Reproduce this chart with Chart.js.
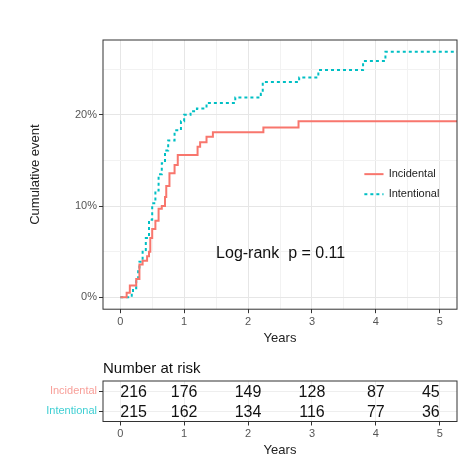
<!DOCTYPE html>
<html>
<head>
<meta charset="utf-8">
<script src="https://cdn.jsdelivr.net/npm/chart.js@4"></script>
<style>
  body { margin: 0; background: #fff; }
  #wrap1 { position: absolute; left: 0; top: 0; width: 474px; height: 350px; }
  #wrap2 { position: absolute; left: 0; top: 352px; width: 474px; height: 110px; }
</style>
</head>
<body>
<div id="wrap1"><canvas id="km"></canvas></div>
<div id="wrap2"><canvas id="risk"></canvas></div>
<script>
Chart.defaults.font.family = "'Liberation Sans', Arial, sans-serif";
Chart.defaults.animation = false;

var RED = '#F8766D';
var TEAL = '#00BFC4';

// step curves: [years, cumulative %]
var incidentalT = [0, 0.1, 0.15, 0.25, 0.3, 0.35, 0.42, 0.45, 0.47, 0.5, 0.55, 0.6, 0.65, 0.7, 0.72, 0.77, 0.85, 0.9, 1.21, 1.25, 1.35, 1.45, 2.24, 2.79, 5.27];
var incidentalY = [0, 0.5, 1.3, 2.0, 3.6, 4.0, 4.5, 5.0, 6.5, 7.5, 8.4, 9.7, 10.0, 11.0, 12.2, 13.6, 14.5, 15.6, 16.5, 17.0, 17.6, 18.1, 18.6, 19.3, 19.3];
var intentionalT = [0, 0.18, 0.2, 0.25, 0.28, 0.3, 0.35, 0.4, 0.45, 0.5, 0.55, 0.6, 0.65, 0.7, 0.75, 0.85, 0.95, 1.0, 1.1, 1.2, 1.35, 1.8, 2.2, 2.23, 2.8, 3.1, 3.8, 4.15, 5.27];
var intentionalY = [0, 0.5, 1.0, 2.0, 3.0, 3.9, 5.0, 6.5, 8.5, 10.3, 11.7, 13.5, 14.7, 16.1, 17.2, 18.3, 19.3, 20.0, 20.4, 20.7, 21.3, 21.9, 22.3, 23.6, 24.1, 24.9, 25.9, 26.9, 26.9];

var groups = ['Incidental', 'Intentional'];
var riskTimes = [0, 1, 2, 3, 4, 5];
var incidentalRisk = [216, 176, 149, 128, 87, 45];
var intentionalRisk = [215, 162, 134, 116, 77, 36];

function pts(t, y) { return t.map(function (v, i) { return {x: v, y: y[i]}; }); }

function gridColor(ctx) {
  var v = ctx.tick ? ctx.tick.value : 0;
  return Math.abs(v - Math.round(v)) < 1e-6 ? '#e6e6e6' : '#f2f2f2';
}

var extras = {
  id: 'extras',
  afterDraw: function (chart) {
    var c = chart.ctx, a = chart.chartArea, xs = chart.scales.x, ys = chart.scales.y;
    c.save();
    c.strokeStyle = '#333'; c.lineWidth = 1;
    c.strokeRect(a.left, a.top, a.right - a.left, a.bottom - a.top);
    // legend
    c.lineWidth = 2;
    c.strokeStyle = RED; c.setLineDash([]);
    c.beginPath(); c.moveTo(xs.getPixelForValue(3.82), ys.getPixelForValue(13.5)); c.lineTo(xs.getPixelForValue(4.12), ys.getPixelForValue(13.5)); c.stroke();
    c.strokeStyle = TEAL; c.setLineDash([3, 3]);
    c.beginPath(); c.moveTo(xs.getPixelForValue(3.82), ys.getPixelForValue(11.3)); c.lineTo(xs.getPixelForValue(4.12), ys.getPixelForValue(11.3)); c.stroke();
    c.setLineDash([]);
    c.fillStyle = '#222'; c.font = '11px "Liberation Sans", Arial'; c.textBaseline = 'middle'; c.textAlign = 'left';
    c.fillText(groups[0], xs.getPixelForValue(4.2), ys.getPixelForValue(13.5));
    c.fillText(groups[1], xs.getPixelForValue(4.2), ys.getPixelForValue(11.3));
    c.font = '16px "Liberation Sans", Arial';
    c.fillStyle = '#111';
    c.fillText('Log-rank  p = 0.11', xs.getPixelForValue(1.5), ys.getPixelForValue(4.8));
    c.restore();
  }
};

new Chart(document.getElementById('km'), {
  type: 'scatter',
  data: {
    datasets: [
      {label: groups[0], data: pts(incidentalT, incidentalY), showLine: true, stepped: 'before', borderColor: RED, borderWidth: 2, pointRadius: 0},
      {label: groups[1], data: pts(intentionalT, intentionalY), showLine: true, stepped: 'before', borderColor: TEAL, borderWidth: 2, borderDash: [3, 3], pointRadius: 0}
    ]
  },
  options: {
    responsive: true, maintainAspectRatio: false,
    layout: {padding: {top: 40, right: 17, left: 0, bottom: 0}},
    plugins: {legend: {display: false}, tooltip: {enabled: false}},
    scales: {
      x: {
        type: 'linear', min: -0.27, max: 5.27,
        afterBuildTicks: function (s) { s.ticks = [0, 0.5, 1, 1.5, 2, 2.5, 3, 3.5, 4, 4.5, 5].map(function (v) { return {value: v}; }); },
        ticks: {color: '#555', font: {size: 11}, padding: 2, callback: function (v) { return Number.isInteger(v) ? v : ''; }},
        grid: {color: gridColor, tickColor: function (ctx) { return Number.isInteger(ctx.tick.value) ? '#333' : 'transparent'; }, tickLength: 4},
        border: {display: false},
        title: {display: true, text: 'Years', color: '#222', font: {size: 13}, padding: {top: 0}}
      },
      y: {
        type: 'linear', min: -1.3, max: 28.2,
        afterBuildTicks: function (s) { s.ticks = [0, 5, 10, 15, 20, 25].map(function (v) { return {value: v}; }); },
        afterFit: function (s) { s.width = 103; },
        ticks: {color: '#555', font: {size: 11}, padding: 2, callback: function (v) { return v % 10 === 0 ? v + '%' : ''; }},
        grid: {color: function (ctx) { return ctx.tick.value % 10 === 0 ? '#e6e6e6' : '#f2f2f2'; }, tickColor: function (ctx) { return ctx.tick.value % 10 === 0 ? '#333' : 'transparent'; }, tickLength: 4},
        border: {display: false},
        title: {display: true, text: 'Cumulative event', color: '#222', font: {size: 13}, padding: {top: 28, bottom: 0}}
      }
    }
  },
  plugins: [extras]
});

var riskText = {
  id: 'riskText',
  afterDraw: function (chart) {
    var c = chart.ctx, a = chart.chartArea, xs = chart.scales.x, ys = chart.scales.y;
    c.save();
    c.strokeStyle = '#333'; c.lineWidth = 1;
    c.strokeRect(a.left, a.top, a.right - a.left, a.bottom - a.top);
    c.fillStyle = '#111'; c.font = '15px "Liberation Sans", Arial'; c.textBaseline = 'alphabetic'; c.textAlign = 'left';
    c.fillText('Number at risk', a.left, a.top - 8);
    c.font = '16px "Liberation Sans", Arial'; c.textBaseline = 'middle';
    [incidentalRisk, intentionalRisk].forEach(function (arr, r) {
      arr.forEach(function (n, i) {
        c.textAlign = i === 0 ? 'left' : (i === arr.length - 1 ? 'right' : 'center');
        c.fillText(String(n), xs.getPixelForValue(riskTimes[i]), ys.getPixelForValue(r) + 1);
      });
    });
    c.restore();
  }
};

new Chart(document.getElementById('risk'), {
  type: 'scatter',
  data: {
    datasets: [{data: riskTimes.map(function (t) { return {x: t, y: 0}; }), pointRadius: 0}]
  },
  options: {
    responsive: true, maintainAspectRatio: false,
    layout: {padding: {top: 29, right: 17, left: 0, bottom: 0}},
    plugins: {legend: {display: false}, tooltip: {enabled: false}},
    scales: {
      x: {
        type: 'linear', min: -0.27, max: 5.27,
        afterBuildTicks: function (s) { s.ticks = riskTimes.map(function (v) { return {value: v}; }); },
        ticks: {color: '#555', font: {size: 11}, padding: 2},
        grid: {color: '#eeeeee', tickColor: '#333', tickLength: 4},
        border: {display: false},
        title: {display: true, text: 'Years', color: '#222', font: {size: 13}, padding: {top: 0}}
      },
      y: {
        type: 'linear', min: -0.5, max: 1.5, reverse: true,
        afterBuildTicks: function (s) { s.ticks = [0, 1].map(function (v) { return {value: v}; }); },
        afterFit: function (s) { s.width = 103; },
        ticks: {font: {size: 11}, padding: 2, color: function (ctx) { return ctx.index === 0 ? '#F8A09A' : '#3FCFD3'; }, callback: function (v) { return groups[v]; }},
        grid: {color: '#eeeeee', tickColor: '#333', tickLength: 4},
        border: {display: false}
      }
    }
  },
  plugins: [riskText]
});
</script>
</body>
</html>
